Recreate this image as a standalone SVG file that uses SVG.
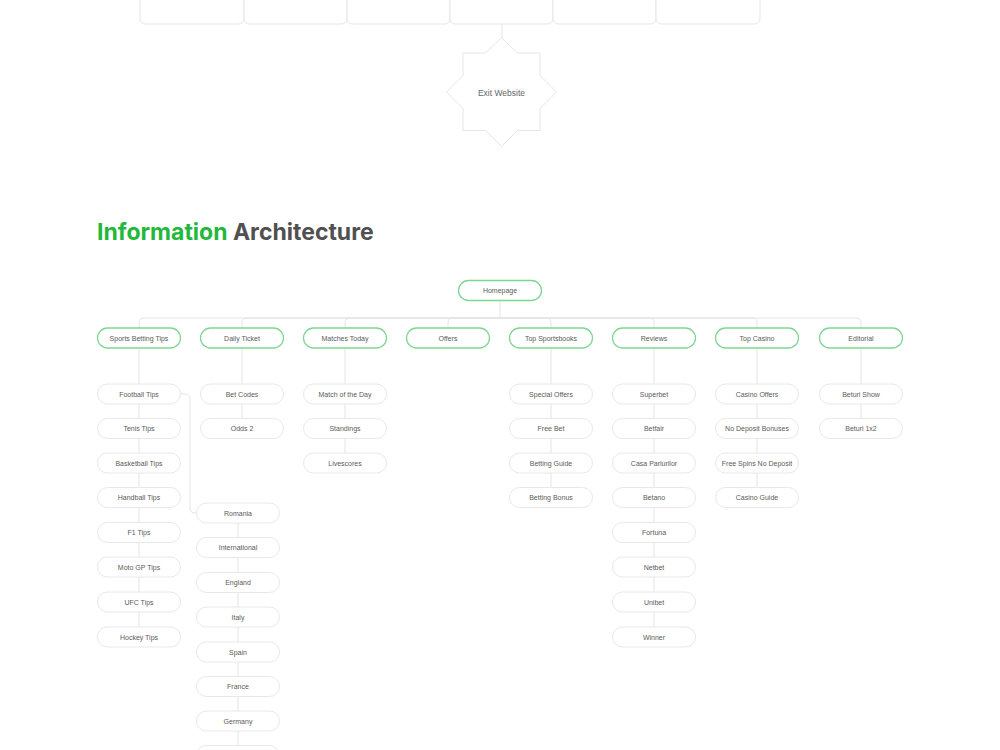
<svg xmlns="http://www.w3.org/2000/svg" width="1000" height="750" viewBox="0 0 1000 750">
<style>
.bg{fill:#ffffff}
.box{fill:#ffffff;stroke:#e6e6e6;stroke-width:1}
.l1{fill:#ffffff;stroke:#7fd694;stroke-width:1.3}
.l2{fill:#ffffff;stroke:#e8e8e8;stroke-width:1}
.con{fill:none;stroke:#e4e4e4;stroke-width:1}
.t{font-family:"Liberation Sans",Arial,sans-serif;font-size:7px;fill:#5a5a5a;text-anchor:middle;dominant-baseline:central}
.tx{font-family:"Liberation Sans",Arial,sans-serif;font-size:8.5px;fill:#666666;text-anchor:middle;dominant-baseline:central}
.title{font-family:Inter,"Noto Sans",sans-serif;font-size:23px;font-weight:700}
</style>
<rect class="bg" x="0" y="0" width="1000" height="750"/>

<g id="connectors">
  <path class="con" d="M502 24 V38"/>
  <path class="con" d="M500 300 V318 H144 Q139 318 139 323 V328"/>
  <path class="con" d="M500 318 H247 Q242 318 242 323 V328"/>
  <path class="con" d="M500 318 H350 Q345 318 345 323 V328"/>
  <path class="con" d="M500 318 H453 Q448 318 448 323 V328"/>
  <path class="con" d="M500 318 H546 Q551 318 551 323 V328"/>
  <path class="con" d="M500 318 H649 Q654 318 654 323 V328"/>
  <path class="con" d="M500 318 H752 Q757 318 757 323 V328"/>
  <path class="con" d="M500 318 H856 Q861 318 861 323 V328"/>
  <path class="con" d="M139 348 V637"/>
  <path class="con" d="M242 348 V428"/>
  <path class="con" d="M345 348 V463"/>
  <path class="con" d="M551 348 V498"/>
  <path class="con" d="M654 348 V637"/>
  <path class="con" d="M757 348 V498"/>
  <path class="con" d="M861 348 V428"/>
  <path class="con" d="M180 394 H185 Q190 394 190 399 V508 Q190 513 195 513 H197"/>
  <path class="con" d="M238 513 V750"/>
</g>

<g id="top-boxes">
  <path class="box" d="M140 -10 V18 Q140 24 146 24 H238 Q244 24 244 18 V-10"/>
  <path class="box" d="M244 -10 V18 Q244 24 250 24 H341 Q347 24 347 18 V-10"/>
  <path class="box" d="M347 -10 V18 Q347 24 353 24 H444 Q450 24 450 18 V-10"/>
  <path class="box" d="M450 -10 V18 Q450 24 456 24 H547 Q553 24 553 18 V-10"/>
  <path class="box" d="M553 -10 V18 Q553 24 559 24 H650 Q656 24 656 18 V-10"/>
  <path class="box" d="M656 -10 V18 Q656 24 662 24 H754 Q760 24 760 18 V-10"/>
</g>

<g id="exit-website">
  <polygon class="box" stroke-linejoin="round" points="501.5,37.5 485.5,53 463,53 463,75.5 446.5,92 463,108.5 463,130.5 485.5,130.5 501.5,146.5 517.5,130.5 540,130.5 540,108.5 556.5,92 540,75.5 540,53 517.5,53"/>
  <text class="tx" x="501.5" y="92.5">Exit Website</text>
</g>

<g id="title">
  <text class="title" x="97" y="240"><tspan fill="#22b83a">Information</tspan><tspan fill="#505050"> Architecture</tspan></text>
</g>

<g id="homepage"><rect class="l1" x="458.5" y="280.5" width="83" height="20" rx="10"/><text class="t" x="500" y="290.5">Homepage</text></g>

<g id="sports-betting-tips"><rect class="l1" x="97.5" y="328" width="83" height="20" rx="10"/><text class="t" x="139" y="338">Sports Betting Tips</text></g>
<g id="daily-ticket"><rect class="l1" x="200.5" y="328" width="83" height="20" rx="10"/><text class="t" x="242" y="338">Daily Ticket</text></g>
<g id="matches-today"><rect class="l1" x="303.5" y="328" width="83" height="20" rx="10"/><text class="t" x="345" y="338">Matches Today</text></g>
<g id="offers"><rect class="l1" x="406.5" y="328" width="83" height="20" rx="10"/><text class="t" x="448" y="338">Offers</text></g>
<g id="top-sportsbooks"><rect class="l1" x="509.5" y="328" width="83" height="20" rx="10"/><text class="t" x="551" y="338">Top Sportsbooks</text></g>
<g id="reviews"><rect class="l1" x="612.5" y="328" width="83" height="20" rx="10"/><text class="t" x="654" y="338">Reviews</text></g>
<g id="top-casino"><rect class="l1" x="715.5" y="328" width="83" height="20" rx="10"/><text class="t" x="757" y="338">Top Casino</text></g>
<g id="editorial"><rect class="l1" x="819.5" y="328" width="83" height="20" rx="10"/><text class="t" x="861" y="338">Editorial</text></g>

<g id="football-tips"><rect class="l2" x="97.5" y="384" width="83" height="20" rx="10"/><text class="t" x="139" y="394">Football Tips</text></g>
<g id="tenis-tips"><rect class="l2" x="97.5" y="418.5" width="83" height="20" rx="10"/><text class="t" x="139" y="428.5">Tenis Tips</text></g>
<g id="basketball-tips"><rect class="l2" x="97.5" y="453" width="83" height="20" rx="10"/><text class="t" x="139" y="463">Basketball Tips</text></g>
<g id="handball-tips"><rect class="l2" x="97.5" y="487.5" width="83" height="20" rx="10"/><text class="t" x="139" y="497.5">Handball Tips</text></g>
<g id="f1-tips"><rect class="l2" x="97.5" y="522.5" width="83" height="20" rx="10"/><text class="t" x="139" y="532.5">F1 Tips</text></g>
<g id="moto-gp-tips"><rect class="l2" x="97.5" y="557" width="83" height="20" rx="10"/><text class="t" x="139" y="567">Moto GP Tips</text></g>
<g id="ufc-tips"><rect class="l2" x="97.5" y="592" width="83" height="20" rx="10"/><text class="t" x="139" y="602">UFC Tips</text></g>
<g id="hockey-tips"><rect class="l2" x="97.5" y="627" width="83" height="20" rx="10"/><text class="t" x="139" y="637">Hockey Tips</text></g>

<g id="romania"><rect class="l2" x="196.5" y="503" width="83" height="20" rx="10"/><text class="t" x="238" y="513">Romania</text></g>
<g id="international"><rect class="l2" x="196.5" y="537.5" width="83" height="20" rx="10"/><text class="t" x="238" y="547.5">International</text></g>
<g id="england"><rect class="l2" x="196.5" y="572.5" width="83" height="20" rx="10"/><text class="t" x="238" y="582.5">England</text></g>
<g id="italy"><rect class="l2" x="196.5" y="607" width="83" height="20" rx="10"/><text class="t" x="238" y="617">Italy</text></g>
<g id="spain"><rect class="l2" x="196.5" y="642" width="83" height="20" rx="10"/><text class="t" x="238" y="652">Spain</text></g>
<g id="france"><rect class="l2" x="196.5" y="676.5" width="83" height="20" rx="10"/><text class="t" x="238" y="686.5">France</text></g>
<g id="germany"><rect class="l2" x="196.5" y="711" width="83" height="20" rx="10"/><text class="t" x="238" y="721">Germany</text></g>
<g id="next-country"><rect class="l2" x="196.5" y="745.5" width="83" height="20" rx="10"/></g>

<g id="bet-codes"><rect class="l2" x="200.5" y="384" width="83" height="20" rx="10"/><text class="t" x="242" y="394">Bet Codes</text></g>
<g id="odds-2"><rect class="l2" x="200.5" y="418.5" width="83" height="20" rx="10"/><text class="t" x="242" y="428.5">Odds 2</text></g>

<g id="match-of-the-day"><rect class="l2" x="303.5" y="384" width="83" height="20" rx="10"/><text class="t" x="345" y="394">Match of the Day</text></g>
<g id="standings"><rect class="l2" x="303.5" y="418.5" width="83" height="20" rx="10"/><text class="t" x="345" y="428.5">Standings</text></g>
<g id="livescores"><rect class="l2" x="303.5" y="453" width="83" height="20" rx="10"/><text class="t" x="345" y="463">Livescores</text></g>

<g id="special-offers"><rect class="l2" x="509.5" y="384" width="83" height="20" rx="10"/><text class="t" x="551" y="394">Special Offers</text></g>
<g id="free-bet"><rect class="l2" x="509.5" y="418.5" width="83" height="20" rx="10"/><text class="t" x="551" y="428.5">Free Bet</text></g>
<g id="betting-guide"><rect class="l2" x="509.5" y="453" width="83" height="20" rx="10"/><text class="t" x="551" y="463">Betting Guide</text></g>
<g id="betting-bonus"><rect class="l2" x="509.5" y="487.5" width="83" height="20" rx="10"/><text class="t" x="551" y="497.5">Betting Bonus</text></g>

<g id="superbet"><rect class="l2" x="612.5" y="384" width="83" height="20" rx="10"/><text class="t" x="654" y="394">Superbet</text></g>
<g id="betfair"><rect class="l2" x="612.5" y="418.5" width="83" height="20" rx="10"/><text class="t" x="654" y="428.5">Betfair</text></g>
<g id="casa-pariurilor"><rect class="l2" x="612.5" y="453" width="83" height="20" rx="10"/><text class="t" x="654" y="463">Casa Pariurilor</text></g>
<g id="betano"><rect class="l2" x="612.5" y="487.5" width="83" height="20" rx="10"/><text class="t" x="654" y="497.5">Betano</text></g>
<g id="fortuna"><rect class="l2" x="612.5" y="522.5" width="83" height="20" rx="10"/><text class="t" x="654" y="532.5">Fortuna</text></g>
<g id="netbet"><rect class="l2" x="612.5" y="557" width="83" height="20" rx="10"/><text class="t" x="654" y="567">Netbet</text></g>
<g id="unibet"><rect class="l2" x="612.5" y="592" width="83" height="20" rx="10"/><text class="t" x="654" y="602">Unibet</text></g>
<g id="winner"><rect class="l2" x="612.5" y="627" width="83" height="20" rx="10"/><text class="t" x="654" y="637">Winner</text></g>

<g id="casino-offers"><rect class="l2" x="715.5" y="384" width="83" height="20" rx="10"/><text class="t" x="757" y="394">Casino Offers</text></g>
<g id="no-deposit-bonuses"><rect class="l2" x="715.5" y="418.5" width="83" height="20" rx="10"/><text class="t" x="757" y="428.5">No Deposit Bonuses</text></g>
<g id="free-spins-no-deposit"><rect class="l2" x="715.5" y="453" width="83" height="20" rx="10"/><text class="t" x="757" y="463">Free Spins No Deposit</text></g>
<g id="casino-guide"><rect class="l2" x="715.5" y="487.5" width="83" height="20" rx="10"/><text class="t" x="757" y="497.5">Casino Guide</text></g>

<g id="beturi-show"><rect class="l2" x="819.5" y="384" width="83" height="20" rx="10"/><text class="t" x="861" y="394">Beturi Show</text></g>
<g id="beturi-1x2"><rect class="l2" x="819.5" y="418.5" width="83" height="20" rx="10"/><text class="t" x="861" y="428.5">Beturi 1x2</text></g>
</svg>
